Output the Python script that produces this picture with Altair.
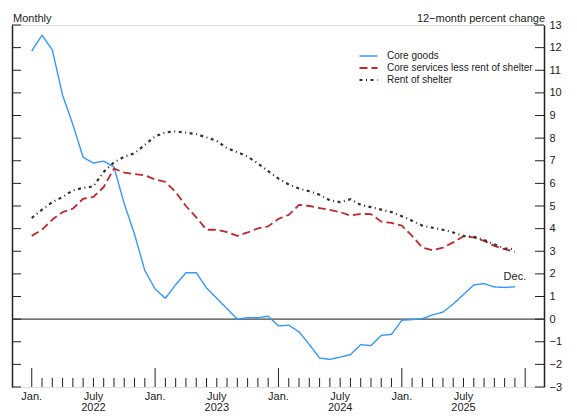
import altair as alt
import pandas as pd

# ---- data ----
month_index = list(range(48))  # 0 = Jan. 2022 ... 47 = Dec. 2025
series_names = ["Core goods", "Core services less rent of shelter", "Rent of shelter"]
core_goods = [11.85, 12.55, 11.9, 9.9, 8.6, 7.15, 6.9, 6.98, 6.72, 5.1, 3.75, 2.15,
              1.33, 0.92, 1.52, 2.05, 2.05, 1.38, 0.92, 0.46, 0.0, 0.07, 0.06, 0.13,
              -0.3, -0.27, -0.56, -1.12, -1.72, -1.78, -1.68, -1.57, -1.13, -1.17, -0.72, -0.67,
              -0.05, -0.02, 0.02, 0.19, 0.31, 0.67, 1.09, 1.51, 1.57, 1.42, 1.40, 1.43]
core_services = [3.68, 3.95, 4.4, 4.73, 4.88, 5.32, 5.4, 5.84, 6.65, 6.48, 6.41, 6.36,
                 6.17, 6.07, 5.62, 5.0, 4.5, 3.95, 3.95, 3.85, 3.68, 3.83, 4.01, 4.1,
                 4.43, 4.61, 5.05, 5.0, 4.91, 4.83, 4.73, 4.58, 4.65, 4.64, 4.31, 4.25,
                 4.13, 3.68, 3.16, 3.04, 3.16, 3.39, 3.66, 3.61, 3.46, 3.24, 3.09, 2.98]
rent_shelter = [4.47, 4.84, 5.17, 5.4, 5.69, 5.8, 5.87, 6.51, 6.93, 7.18, 7.33, 7.7,
                8.08, 8.25, 8.3, 8.24, 8.18, 8.03, 7.88, 7.55, 7.38, 7.18, 6.88, 6.54,
                6.21, 5.95, 5.77, 5.65, 5.5, 5.25, 5.17, 5.3, 5.05, 4.95, 4.84, 4.73,
                4.55, 4.35, 4.13, 4.04, 3.95, 3.83, 3.68, 3.64, 3.5, 3.31, 3.12, 3.1]
y_tick_values = list(range(-3, 14))
x_label_months = [0, 6, 12, 18, 24, 30, 36, 42]
x_label_texts = ["Jan.", "July", "Jan.", "July", "Jan.", "July", "Jan.", "July"]
year_label_months = [6, 18, 30, 42]
year_label_texts = ["2022", "2023", "2024", "2025"]
major_tick_months = [0, 12, 24, 36, 48]
minor_tick_months = [m for m in range(49) if m % 12 != 0]
end_label = ["Dec."]
end_label_month = [47]
end_label_value = [1.85]

# ---- tables ----
rows = []
for name, vals in zip(series_names, [core_goods, core_services, rent_shelter]):
    for m, v in zip(month_index, vals):
        rows.append({"m": m, "v": v, "series": name})
df = pd.DataFrame(rows)

W, H = 532, 362
FONT = "Liberation Sans"
INK = "#222222"

xs = alt.Scale(domain=[-1.92, 49.83], nice=False, zero=False)
ys = alt.Scale(domain=[-3, 13], nice=False, zero=False)

x_axis = alt.Axis(values=x_label_months, ticks=False, grid=False, domain=True, labels=False,
                  domainColor=INK, domainWidth=1.5, title=None)

lines = alt.Chart(df).mark_line(strokeJoin="round").encode(
    x=alt.X("m:Q", scale=xs, axis=x_axis),
    y=alt.Y("v:Q", scale=ys, axis=alt.Axis(orient="right", values=y_tick_values, ticks=False,
                                           grid=False, domainColor=INK, domainWidth=1.5,
                                           title=None, labelFont=FONT, labelFontSize=11,
                                           labelColor=INK, labelPadding=5, labelOverlap=False)),
    color=alt.Color("series:N", sort=series_names,
                    scale=alt.Scale(domain=series_names, range=["#3399ff", "#c0282d", "#333333"]),
                    legend=alt.Legend(title=None, orient="none", legendX=346, legendY=25,
                                      symbolType="stroke", symbolSize=324, clipHeight=12,
                                      rowPadding=0, labelOffset=8, labelFont=FONT,
                                      labelFontSize=10, labelColor=INK, labelLimit=400,
                                      padding=0)),
    strokeDash=alt.StrokeDash("series:N", sort=series_names,
                              scale=alt.Scale(domain=series_names,
                                              range=[[1, 0], [8, 4], [3, 3.5, 1, 3.5]])),
    strokeWidth=alt.StrokeWidth("series:N", sort=series_names,
                                scale=alt.Scale(domain=series_names, range=[1.4, 2.2, 1.0])),
)

zero_df = pd.DataFrame({"v": [0]})
zero_line = alt.Chart(zero_df).mark_rule(color="#444444", strokeWidth=1.4).encode(
    y=alt.Y("v:Q", scale=ys, axis=alt.Axis(orient="left", labels=False, ticks=False, grid=False,
                                           domainColor=INK, domainWidth=1.5, title=None))
)

yt = pd.DataFrame({"v": y_tick_values})
left_ticks = alt.Chart(yt).mark_rule(color=INK, strokeWidth=1).encode(
    y=alt.Y("v:Q", scale=ys, axis=None), x=alt.value(0), x2=alt.value(9))
right_ticks = alt.Chart(yt).mark_rule(color=INK, strokeWidth=1).encode(
    y=alt.Y("v:Q", scale=ys, axis=None), x=alt.value(W - 9), x2=alt.value(W))

major = alt.Chart(pd.DataFrame({"m": major_tick_months})).mark_rule(color=INK, strokeWidth=1).encode(
    x=alt.X("m:Q", scale=xs, axis=None), y=alt.value(H), y2=alt.value(H - 19))
minor = alt.Chart(pd.DataFrame({"m": minor_tick_months})).mark_rule(color=INK, strokeWidth=1).encode(
    x=alt.X("m:Q", scale=xs, axis=None), y=alt.value(H), y2=alt.value(H - 9))

month_labels = alt.Chart(pd.DataFrame({"m": x_label_months, "t": x_label_texts})).mark_text(
    font=FONT, fontSize=11, color=INK, align="center", baseline="top").encode(
    x=alt.X("m:Q", scale=xs, axis=None), y=alt.value(H + 3.5), text="t:N")
year_labels = alt.Chart(pd.DataFrame({"m": year_label_months, "t": year_label_texts})).mark_text(
    font=FONT, fontSize=11, color=INK, align="center", baseline="top").encode(
    x=alt.X("m:Q", scale=xs, axis=None), y=alt.value(H + 15), text="t:N")

dec = alt.Chart(pd.DataFrame({"m": end_label_month, "v": end_label_value, "t": end_label})).mark_text(
    font=FONT, fontSize=11, color=INK, align="center", baseline="middle").encode(
    x=alt.X("m:Q", scale=xs, axis=None), y=alt.Y("v:Q", scale=ys, axis=None), text="t:N")

head_df = pd.DataFrame({"t": ["Monthly"]})
head_left = alt.Chart(head_df).mark_text(font=FONT, fontSize=11, color=INK, align="left",
                                         baseline="middle").encode(
    x=alt.value(1), y=alt.value(-6.5), text="t:N")
head_df2 = pd.DataFrame({"t": ["12\u2212month percent change"]})
head_right = alt.Chart(head_df2).mark_text(font=FONT, fontSize=11, color=INK, align="right",
                                           baseline="middle").encode(
    x=alt.value(W + 1), y=alt.value(-6.5), text="t:N")

chart = alt.layer(
    zero_line, lines, left_ticks, right_ticks, major, minor, month_labels, year_labels,
    dec, head_left, head_right
).resolve_axis(y="independent").properties(
    width=W, height=H, autosize="none",
    padding={"left": 4, "top": 17, "right": 25, "bottom": 25},
).configure_view(stroke=None).configure(background="white")

chart.save("out.html", embed_options={"renderer": "svg", "actions": False})
